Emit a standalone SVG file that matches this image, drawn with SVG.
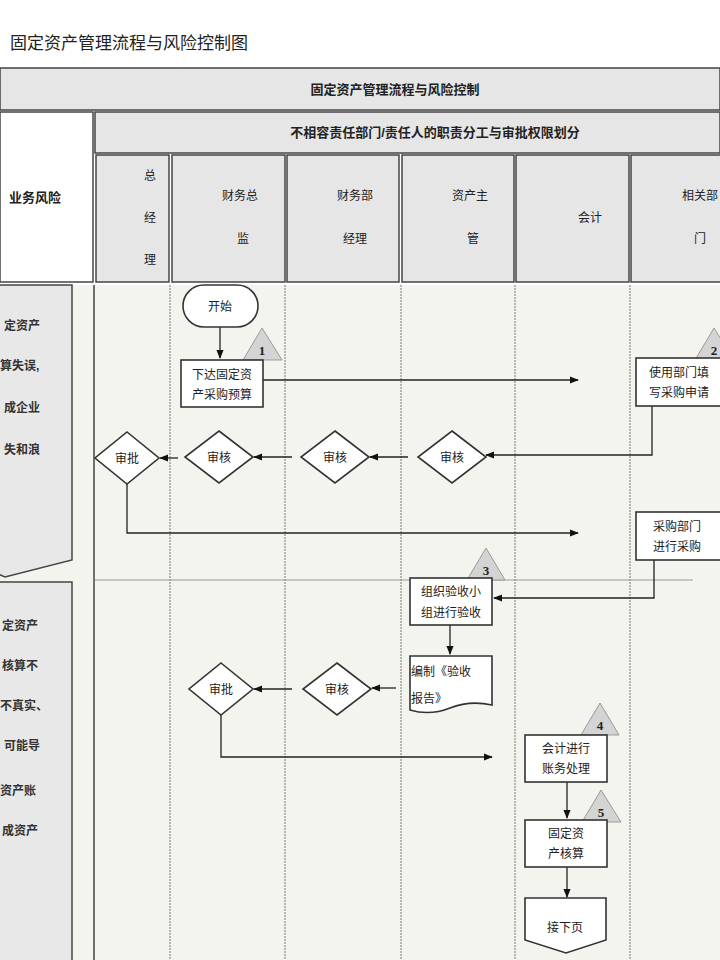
<svg xmlns="http://www.w3.org/2000/svg" width="720" height="960" viewBox="0 0 720 960">
<defs>
<marker id="ah" viewBox="0 0 10 10" refX="9" refY="5" markerWidth="7" markerHeight="7" orient="auto"><path d="M0,1 L10,5 L0,9 z" fill="#111"/></marker>
<style>
text{font-family:"Liberation Sans","Noto Sans CJK SC",sans-serif;fill:#222}
.h{font-size:13px;font-weight:bold;text-anchor:middle}
.n{font-size:12px;text-anchor:middle}
.r{font-size:12px;font-weight:bold;fill:#333}
.box{fill:#fff;stroke:#333;stroke-width:1.6}
.cell{fill:#e6e6e6;stroke:#444;stroke-width:1.5}
.tri{fill:#d4d4d4;stroke:#999;stroke-width:1}
.num{font-family:"Liberation Serif",serif;font-size:13px;font-weight:bold;text-anchor:middle}
.lane{stroke:#777;stroke-width:1;stroke-dasharray:2,1}
.c{fill:none;stroke:#222;stroke-width:1.3}
.a{fill:none;stroke:#222;stroke-width:1.3;marker-end:url(#ah)}
</style>
</defs>
<rect width="720" height="960" fill="#fff"/>
<text x="10" y="49" style="font-size:17px">固定资产管理流程与风险控制图</text>
<rect x="0" y="285" width="720" height="675" fill="#f4f4ee"/>
<g id="header">
<rect x="0" y="68" width="720" height="42" class="cell"/>
<text x="395" y="94" class="h">固定资产管理流程与风险控制</text>
<rect x="0" y="112" width="93" height="170" fill="#fff" stroke="#444" stroke-width="1.5"/>
<text x="35" y="202" class="h">业务风险</text>
<rect x="95" y="112" width="625" height="41" class="cell"/>
<text x="435" y="137" class="h">不相容责任部门/责任人的职责分工与审批权限划分</text>
<rect x="96" y="155" width="73" height="127" class="cell"/>
<text x="150" y="180" class="n">总</text><text x="150" y="222" class="n">经</text><text x="150" y="264" class="n">理</text>
<rect x="172" y="155" width="113" height="127" class="cell"/>
<text x="240" y="200" class="n">财务总</text><text x="243" y="243" class="n">监</text>
<rect x="287" y="155" width="112" height="127" class="cell"/>
<text x="355" y="200" class="n">财务部</text><text x="355" y="243" class="n">经理</text>
<rect x="402" y="155" width="112" height="127" class="cell"/>
<text x="470" y="200" class="n">资产主</text><text x="473" y="243" class="n">管</text>
<rect x="516" y="155" width="113" height="127" class="cell"/>
<text x="590" y="222" class="n">会计</text>
<rect x="631" y="155" width="95" height="127" class="cell"/>
<text x="700" y="200" class="n">相关部</text><text x="700" y="243" class="n">门</text>
</g>
<g id="lanes">
<line x1="94" y1="285" x2="94" y2="960" stroke="#444" stroke-width="1.5"/>
<line x1="170" y1="285" x2="170" y2="960" class="lane"/>
<line x1="285" y1="285" x2="285" y2="960" class="lane"/>
<line x1="401" y1="285" x2="401" y2="960" class="lane"/>
<line x1="515" y1="285" x2="515" y2="960" class="lane"/>
<line x1="630" y1="285" x2="630" y2="960" class="lane"/>
<line x1="95" y1="580" x2="693" y2="580" stroke="#999" stroke-width="1"/>
</g>
<g id="risk1">
<path d="M-2,285 H72 V560 L5,577 L-2,574 Z" fill="#e8e8e8" stroke="#444" stroke-width="1.5"/>
<text x="4" y="330" class="r">定资产</text>
<text x="0" y="370" class="r">算失误,</text>
<text x="4" y="412" class="r">成企业</text>
<text x="4" y="454" class="r">失和浪</text>
</g>
<g id="risk2">
<rect x="-2" y="582" width="74" height="380" fill="#e8e8e8" stroke="#444" stroke-width="1.5"/>
<text x="2" y="630" class="r">定资产</text>
<text x="2" y="670" class="r">核算不</text>
<text x="0" y="710" class="r">不真实、</text>
<text x="4" y="750" class="r">可能导</text>
<text x="0" y="795" class="r">资产账</text>
<text x="2" y="835" class="r">成资产</text>
</g>
<g id="connectors">
<path d="M220,327 V358" class="a"/>
<path d="M263,380 H578" class="a"/>
<path d="M652,406 V455 H486" class="a"/>
<path d="M408,457 H370" class="a"/>
<path d="M292,457 H254" class="a"/>
<path d="M178,458 H160" class="a"/>
<path d="M127,484 V533 H578" class="a"/>
<path d="M654,560 V598 H494" class="a"/>
<path d="M450,625 V654" class="a"/>
<path d="M396,688 H372" class="a"/>
<path d="M292,689 H254" class="a"/>
<path d="M221,715 V757 H492" class="a"/>
<path d="M567,782 V818" class="a"/>
<path d="M567,867 V897" class="a"/>
</g>
<g id="start"><rect x="183" y="285" width="75" height="42" rx="21" class="box"/><text x="220" y="311" class="n">开始</text></g>
<g id="n1"><polygon points="262,328 282,360 243,360" class="tri"/><text x="262" y="355" class="num">1</text>
<rect x="181" y="360" width="82" height="47" class="box"/><text x="222" y="379" class="n">下达固定资</text><text x="222" y="399" class="n">产采购预算</text></g>
<g id="n2"><polygon points="714,328 734,360 695,360" class="tri"/><text x="714" y="355" class="num">2</text>
<rect x="636" y="358" width="86" height="48" class="box"/><text x="679" y="377" class="n">使用部门填</text><text x="679" y="397" class="n">写采购申请</text></g>
<g id="d1"><polygon points="452,431 486,457 452,483 418,457" class="box"/><text x="452" y="462" class="n">审核</text></g>
<g id="d2"><polygon points="335,431 369,457 335,483 301,457" class="box"/><text x="335" y="462" class="n">审核</text></g>
<g id="d3"><polygon points="219,431 253,457 219,483 185,457" class="box"/><text x="219" y="462" class="n">审核</text></g>
<g id="d4"><polygon points="127,432 159,458 127,484 95,458" class="box"/><text x="127" y="463" class="n">审批</text></g>
<g id="n3"><rect x="636" y="512" width="86" height="48" class="box"/><text x="677" y="531" class="n">采购部门</text><text x="677" y="551" class="n">进行采购</text></g>
<g id="n4"><polygon points="486,548 505,580 467,580" class="tri"/><text x="486" y="575" class="num">3</text>
<rect x="410" y="578" width="82" height="47" class="box"/><text x="451" y="596" class="n">组织验收小</text><text x="451" y="617" class="n">组进行验收</text></g>
<g id="n5"><path d="M410,656 H492 V705 Q470,700 450,708 Q430,716 410,710 Z" class="box"/><text x="411" y="676" style="font-size:12px">编制《验收</text><text x="411" y="703" style="font-size:12px">报告》</text></g>
<g id="d5"><polygon points="337,663 371,689 337,715 303,689" class="box"/><text x="337" y="694" class="n">审核</text></g>
<g id="d6"><polygon points="221,663 253,689 221,715 189,689" class="box"/><text x="221" y="694" class="n">审批</text></g>
<g id="n6"><polygon points="600,703 619,735 581,735" class="tri"/><text x="600" y="730" class="num">4</text>
<rect x="525" y="735" width="82" height="47" class="box"/><text x="566" y="753" class="n">会计进行</text><text x="566" y="773" class="n">账务处理</text></g>
<g id="n7"><polygon points="601,790 621,822 582,822" class="tri"/><text x="601" y="817" class="num">5</text>
<rect x="525" y="820" width="82" height="47" class="box"/><text x="566" y="838" class="n">固定资</text><text x="566" y="858" class="n">产核算</text></g>
<g id="n8"><path d="M525,898 H606 V940 L566,953 L525,940 Z" class="box"/><text x="565" y="932" class="n">接下页</text></g>
</svg>
